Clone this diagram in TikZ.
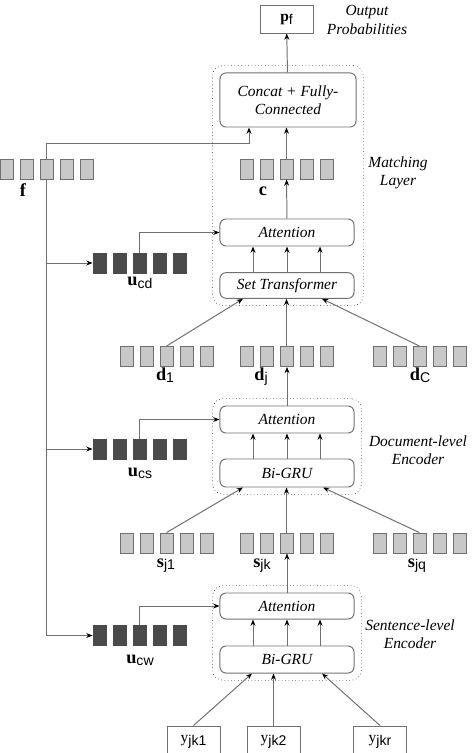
\documentclass[tikz,border=0pt]{standalone}
\usepackage{fontspec}
\setmainfont{Liberation Serif}
\newfontfamily\subfont{Liberation Sans}
\usetikzlibrary{arrows.meta, fit}

\definecolor{linegray}{HTML}{707070}
\definecolor{cellgray}{HTML}{C8C8C8}
\definecolor{celldark}{HTML}{4A4A4A}

\tikzstyle{block} = [rectangle, rounded corners=1.5mm, draw=linegray, line width=0.7pt, minimum width=33.5mm, minimum height=6.75mm, text centered, font=\itshape]
\tikzstyle{outbox} = [rectangle, draw=linegray, line width=0.7pt, minimum width=13.25mm, minimum height=6.75mm, text centered]
\tikzstyle{cell} = [rectangle, draw=linegray, fill=cellgray, minimum width=3.25mm, minimum height=5mm, inner sep=0pt, line width=0.6pt]
\tikzstyle{dcell} = [cell, fill=celldark, draw=celldark]
\tikzstyle{group} = [rectangle, rounded corners=2.5mm, draw, dotted, inner sep=1.7mm]
\tikzstyle{tag} = [font=\itshape, align=center]
\tikzstyle{vlab} = [anchor=base, inner sep=0pt, font=\bfseries\fontsize{13}{13}\selectfont]
\tikzstyle{arrow} = [draw=linegray, line width=0.7pt, -{Stealth[black,length=4.5pt,width=3.5pt]}]

% five cells in a row: name, style, x, y of the first one
\newcommand{\cells}[4]{%
  \node (#1a) [#2] at (#3,#4) {};
  \node (#1b) [#2, right of=#1a] {};
  \node (#1c) [#2, right of=#1b] {};
  \node (#1d) [#2, right of=#1c] {};
  \node (#1e) [#2, right of=#1d] {};}
\newcommand{\subtxt}[1]{\raisebox{-2pt}{\subfont\mdseries\fontsize{10}{10}\selectfont #1}}

\begin{document}
\begin{tikzpicture}[x=0.025cm, y=-0.025cm, node distance=5mm]
  \fontsize{11}{13}\selectfont
  \useasboundingbox (0,0) rectangle (474,753);

  % output
  \node (pf) [outbox] at (286.5,19.5) {\textbf{p}\subtxt{f}};
  \node (outtag) [tag] at (367,20) {Output\\Probabilities};

  % matching layer
  \node (concat) [block, minimum width=34mm, minimum height=13.5mm, align=center] at (288,100) {Concat + Fully-\\Connected};
  \node (att3)   [block] at (287,232.5) {Attention};
  \node (settr)  [block, minimum height=6.4mm] at (287,285.5) {Set Transformer};
  \node (match)  [group, fit=(concat)(settr)] {};
  \node (matchtag) [tag] at (398,173) {Matching\\Layer};

  \cells{f}{cell}{6.5}{169}
  \cells{c}{cell}{246.5}{169}
  \cells{ucd}{dcell}{99.5}{263}
  \node (flab)   [vlab] at (23,197) {f};
  \node (clab)   [vlab] at (263,196) {c};
  \node (ucdlab) [vlab] at (140,286) {u\subtxt{cd}};

  % document vectors
  \cells{d1}{cell}{126.5}{356.5}
  \cells{dj}{cell}{246.5}{356.5}
  \cells{dC}{cell}{379.5}{356.5}
  \node (d1lab) [vlab] at (165,380) {d\subtxt{1}};
  \node (djlab) [vlab] at (261,380) {d\subtxt{j}};
  \node (dClab) [vlab] at (420,380) {d\subtxt{C}};

  % document-level encoder
  \node (att2) [block] at (287,419.5) {Attention};
  \node (gru2) [block, minimum height=7mm] at (287,473) {Bi-GRU};
  \node (doc)  [group, fit=(att2)(gru2)] {};
  \node (doctag) [tag] at (418,450) {Document-level\\Encoder};
  \cells{ucs}{dcell}{99.5}{449}
  \node (ucslab) [vlab] at (140,476) {u\subtxt{cs}};

  % sentence vectors
  \cells{sj1}{cell}{126.5}{543}
  \cells{sjk}{cell}{246.5}{543}
  \cells{sjq}{cell}{379.5}{543}
  \node (sj1lab) [vlab] at (166,567) {s\subtxt{j1}};
  \node (sjklab) [vlab] at (262,567) {s\subtxt{jk}};
  \node (sjqlab) [vlab] at (417,567) {s\subtxt{jq}};

  % sentence-level encoder
  \node (att1) [block, minimum height=6.5mm] at (287,606) {Attention};
  \node (gru1) [block] at (287,659.5) {Bi-GRU};
  \node (sent) [group, fit=(att1)(gru1)] {};
  \node (senttag) [tag] at (410,634) {Sentence-level\\Encoder};
  \cells{ucw}{dcell}{99.5}{635.5}
  \node (ucwlab) [vlab] at (140,663) {u\subtxt{cw}};

  % words
  \node (y1) [outbox, minimum height=8mm] at (193.5,742) {y\subtxt{jk1}};
  \node (y2) [outbox, minimum height=8mm] at (273.5,742) {y\subtxt{jk2}};
  \node (yr) [outbox, minimum height=8mm] at (380,742) {y\subtxt{jkr}};

  % connectors
  \coordinate (fturn) at (249,143);
  \draw [arrow] (concat) -- (pf);
  \draw [arrow] (fc) |- (fturn) -- (fturn |- concat.south);
  \draw [arrow] (fc) |- (ucda);
  \draw [arrow] (fc) |- (ucsa);
  \draw [arrow] (fc) |- (ucwa);
  \draw [arrow] (cc) -- (cc |- concat.south);
  \draw [arrow] (att3) -- (cc);
  \draw [arrow] (ucdc) |- (att3);
  \draw [arrow] ([xshift=-8.5mm]settr.north) -- ([xshift=-8.5mm]att3.south);
  \draw [arrow] (settr) -- (att3);
  \draw [arrow] ([xshift=8.25mm]settr.north) -- ([xshift=8.25mm]att3.south);
  \draw [arrow] (d1c.north) -- ([xshift=-11mm]settr.south);
  \draw [arrow] (djc) -- (djc |- settr.south);
  \draw [arrow] (dCc.north) -- ([xshift=8.75mm]settr.south);

  \draw [arrow] (att2) -- (att2.north |- djc.south);
  \draw [arrow] (ucsc) |- (att2);
  \draw [arrow] ([xshift=-8.5mm]gru2.north) -- ([xshift=-8.5mm]att2.south);
  \draw [arrow] (gru2) -- (att2);
  \draw [arrow] ([xshift=8.25mm]gru2.north) -- ([xshift=8.25mm]att2.south);
  \draw [arrow] (sj1c.north) -- ([xshift=-11mm]gru2.south);
  \draw [arrow] (sjkc) -- (sjkc |- gru2.south);
  \draw [arrow] (sjqc.north) -- ([xshift=9mm]gru2.south);

  \draw [arrow] (att1) -- (att1.north |- sjkc.south);
  \draw [arrow] (ucwc) |- (att1);
  \draw [arrow] ([xshift=-8.5mm]gru1.north) -- ([xshift=-8.5mm]att1.south);
  \draw [arrow] (gru1) -- (att1);
  \draw [arrow] ([xshift=8.25mm]gru1.north) -- ([xshift=8.25mm]att1.south);
  \draw [arrow] (y1.north) -- ([xshift=-8.75mm]gru1.south);
  \draw [arrow] (y2) -- (y2 |- gru1.south);
  \draw [arrow] (yr.north) -- ([xshift=8.75mm]gru1.south);
\end{tikzpicture}
\end{document}
